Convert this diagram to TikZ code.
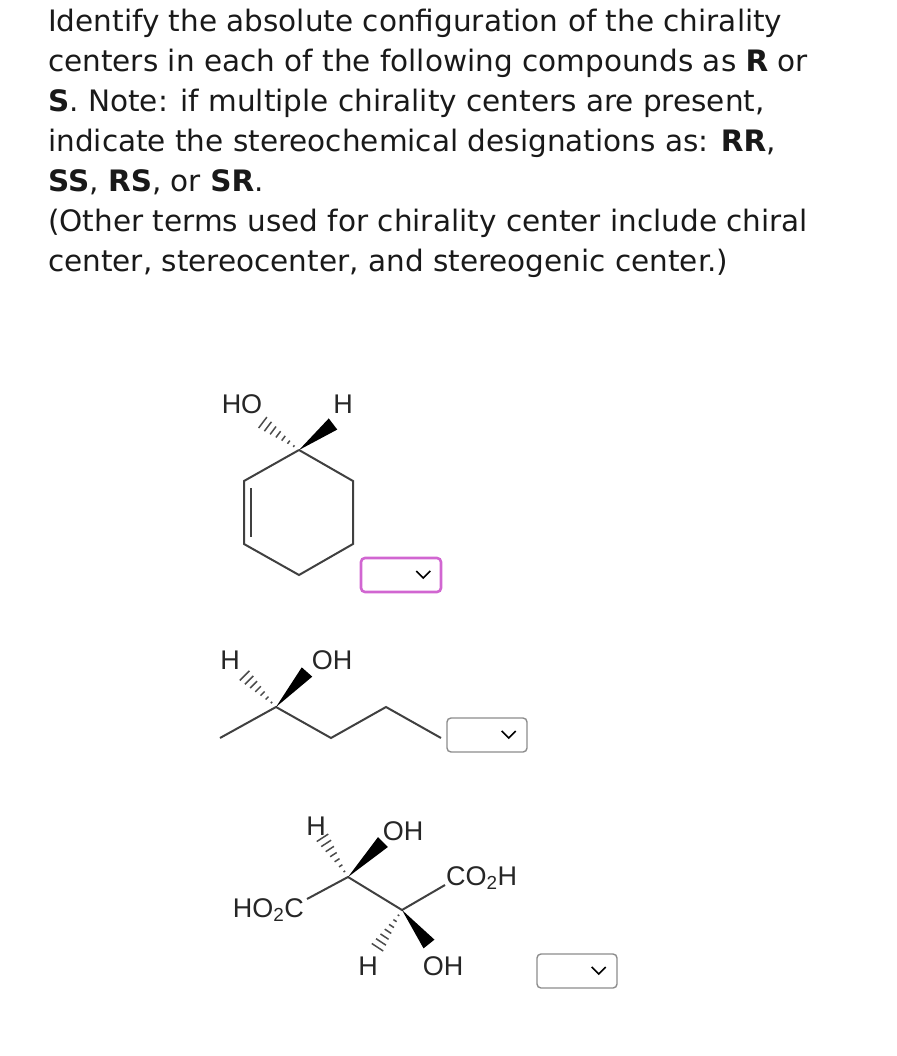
\documentclass[tikz,border=0pt]{standalone}
\usepackage{fontspec}
\setmainfont{DejaVu Sans}
\newfontfamily\molfont{Liberation Sans}
\usetikzlibrary{calc}
\tikzset{
  bond/.style={line width=2pt,draw=black!75},
  lbl/.style={font=\molfont\fontsize{27}{27}\selectfont,inner sep=0pt,text=black!85},
  ddbox/.style={draw=black!45,line width=1.4pt,rounded corners=4pt,minimum width=80pt,minimum height=34pt,inner sep=0pt},
  ddsel/.style={ddbox,draw=violet!60!magenta!60,line width=2.6pt},
}
\newcommand{\wedgebond}[2]{\fill[black] (#1) -- ($(#2)!7pt!90:(#1)$) -- ($(#2)!7pt!-90:(#1)$) -- cycle;}
\newcommand{\hashbond}[2]{\foreach \t in {0.14,0.28,...,1.0}{\pgfmathsetmacro\w{\t*7}\draw[line width=1.5pt,black!70] ($(#1)!\t!(#2)!\w pt!90:(#2)$) -- ($(#1)!\t!(#2)!\w pt!-90:(#2)$);}}
\newcommand{\chev}[1]{\draw[line width=1.6pt] ($(#1.east)+(-26pt,4pt)$) -- ++(7pt,-7pt) -- ++(7pt,7pt);}
\begin{document}
\begin{tikzpicture}[x=1pt,y=-1pt]
\useasboundingbox (0,0) rectangle (896,1056);
\node[anchor=north west,align=left,inner sep=0pt,font=\fontsize{29.5}{40}\selectfont,text=black!90] (q) at (48,9) {Identify the absolute configuration of the chirality\\
centers in each of the following compounds as \textbf{R} or\\
\textbf{S}. Note: if multiple chirality centers are present,\\
indicate the stereochemical designations as: \textbf{RR},\\
\textbf{SS}, \textbf{RS}, or \textbf{SR}.\\
(Other terms used for chirality center include chiral\\
center, stereocenter, and stereogenic center.)};
% molecule 1
\coordinate (a1) at (299,450); \coordinate (a2) at (244,481); \coordinate (a3) at (244,544);
\coordinate (a4) at (299,575); \coordinate (a5) at (353,544); \coordinate (a6) at (353,481);
\draw[bond] (a1)--(a2)--(a3)--(a4)--(a5)--(a6)--(a1);
\draw[bond] ($(a2)+(7,7)$) -- ($(a3)+(7,-7)$);
\coordinate (a1h) at (333,424); \coordinate (a1o) at (262,422);
\wedgebond{a1}{a1h}
\hashbond{a1}{a1o}
\node[lbl] (ho1) at (242,404) {HO};
\node[lbl] (h1) at (343,404) {H};
\node[ddsel] (dd1) at (401,575) {}; \chev{dd1}
% molecule 2
\coordinate (b1) at (276,707); \coordinate (b0) at (220,738); \coordinate (b2) at (331,738);
\coordinate (b3) at (386,707); \coordinate (b4) at (441,738);
\draw[bond] (b0)--(b1)--(b2)--(b3)--(b4);
\coordinate (b1o) at (307,672); \coordinate (b1h) at (244,675);
\wedgebond{b1}{b1o}
\hashbond{b1}{b1h}
\node[lbl] (h2) at (230,660) {H};
\node[lbl] (oh2) at (332,660) {OH};
\node[ddbox] (dd2) at (487,735) {}; \chev{dd2}
% molecule 3
\coordinate (c1) at (348,877); \coordinate (c2) at (402,910);
\coordinate (cl) at (307,899); \coordinate (cr) at (445,885);
\draw[bond] (cl)--(c1)--(c2)--(cr);
\coordinate (c1o) at (383,842); \coordinate (c1h) at (322,837);
\coordinate (c2o) at (429,944); \coordinate (c2h) at (377,948);
\wedgebond{c1}{c1o}
\hashbond{c1}{c1h}
\wedgebond{c2}{c2o}
\hashbond{c2}{c2h}
\node[lbl] (h3a) at (316,826) {H};
\node[lbl] (oh3a) at (403,831) {OH};
\node[lbl,anchor=east] (ho2c) at (304,910) {HO\textsubscript{2}C};
\node[lbl,anchor=west] (co2h) at (446,878) {CO\textsubscript{2}H};
\node[lbl] (h3b) at (368,966) {H};
\node[lbl] (oh3b) at (443,966) {OH};
\node[ddbox] (dd3) at (577,971) {}; \chev{dd3}
\end{tikzpicture}
\end{document}
